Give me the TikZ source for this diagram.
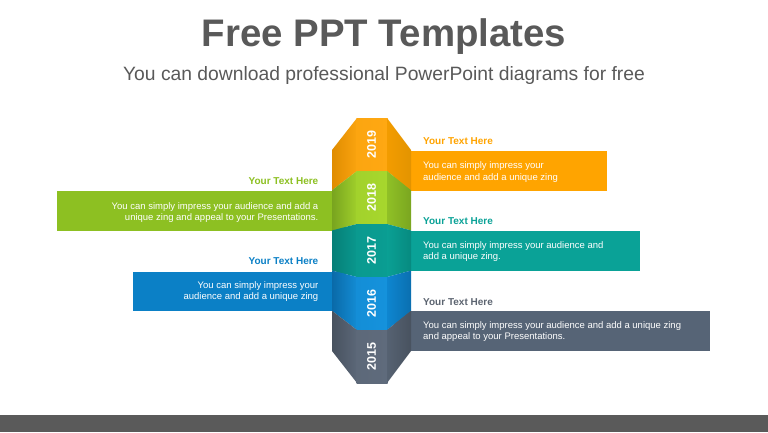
\documentclass[tikz,border=0pt]{standalone}
\usepackage{fontspec}
\setmainfont{Liberation Sans}
\definecolor{hdr}{HTML}{595959}
\definecolor{foot}{HTML}{5A5A5A}
\definecolor{obar}{HTML}{FFA400}
\definecolor{gbar}{HTML}{8DC022}
\definecolor{tbar}{HTML}{0AA297}
\definecolor{bbar}{HTML}{0B80C6}
\definecolor{sbar}{HTML}{566476}
\definecolor{stitle}{HTML}{5C6470}
\definecolor{oL}{HTML}{E08C00}\definecolor{oF}{HTML}{FFA812}\definecolor{oR}{HTML}{F39C00}\definecolor{oE}{HTML}{E39400}
\definecolor{gL}{HTML}{78A41F}\definecolor{gF}{HTML}{A7D72D}\definecolor{gR}{HTML}{90C026}\definecolor{gE}{HTML}{7AA620}
\definecolor{tL}{HTML}{067F77}\definecolor{tF}{HTML}{0A9D92}\definecolor{tR}{HTML}{0AA094}\definecolor{tE}{HTML}{078A80}
\definecolor{bL}{HTML}{0A6AA8}\definecolor{bF}{HTML}{1592DC}\definecolor{bR}{HTML}{0E86D0}\definecolor{bE}{HTML}{0A6FB0}
\definecolor{sL}{HTML}{48525F}\definecolor{sF}{HTML}{5F6B7C}\definecolor{sR}{HTML}{566272}\definecolor{sE}{HTML}{48525F}
\tikzset{
  yeartxt/.style={text=white,font=\bfseries\fontsize{12.5}{14}\selectfont,rotate=90,inner sep=0pt},
  headr/.style={anchor=west,font=\bfseries\fontsize{10}{11}\selectfont,inner sep=0pt},
  headl/.style={anchor=east,font=\bfseries\fontsize{10}{11}\selectfont,inner sep=0pt},
  bodyr/.style={anchor=west,align=left,text=white,font=\fontsize{9.5}{11.4}\selectfont,inner sep=0pt},
  bodyl/.style={anchor=east,align=right,text=white,font=\fontsize{9.5}{11.4}\selectfont,inner sep=0pt}
}
\begin{document}
\begin{tikzpicture}[x=1pt,y=-1pt]
\useasboundingbox (0,0) rectangle (768,432);
\fill[white] (0,0) rectangle (768,432);
\fill[foot] (0,415) rectangle (768,432);
\node[text=hdr,font=\bfseries\fontsize{38.4}{40}\selectfont,inner sep=0pt] (title) at (384,37) {Free PPT Templates};
\node[text=hdr,font=\fontsize{19.3}{22}\selectfont,inner sep=0pt] (subtitle) at (384,76) {You can download professional PowerPoint diagrams for free};
% bars
\fill[obar] (395,151) rectangle (607,190.5);
\fill[tbar] (395,231) rectangle (640,271);
\fill[sbar] (395,311) rectangle (710,351);
\fill[gbar] (57,191) rectangle (345,231);
\fill[bbar] (133,272) rectangle (345,311);
% column
\foreach \a/\b/\c/\d/\L/\F/\R/\E/\yr in {
  150/190.2/118/171/oL/oF/oR/oE/2019,
  190.2/230.4/171/224/gL/gF/gR/gE/2018,
  230.4/270.6/224/277/tL/tF/tR/tE/2017,
  270.6/310.8/277/330/bL/bF/bR/bE/2016,
  310.8/351/330/383/sL/sF/sR/sE/2015}{
  \shade[left color=\L,right color=\F!85!\L] (332,\a) -- (357,\c) -- (357,\d) -- (332,\b) -- cycle;
  \shade[left color=\F!90!\L,right color=\F] (356.5,\c) rectangle (387.5,\d);
  \shade[left color=\R,right color=\E] (387,\c) -- (411,\a) -- (411,\b) -- (387,\d) -- cycle;
  \node[yeartxt] (y\yr) at (371.5,{(\c+\d)/2}) {\yr};
}
% texts right
\node[headr,text=obar] (h19) at (423,141) {Your Text Here};
\node[bodyr] (t19) at (423,172) {You can simply impress your\\audience and add a unique zing};
\node[headr,text=tbar] (h17) at (423,221.5) {Your Text Here};
\node[bodyr] (t17) at (423,251.5) {You can simply impress your audience and\\add a unique zing.};
\node[headr,text=stitle] (h15) at (423,302) {Your Text Here};
\node[bodyr] (t15) at (423,331.5) {You can simply impress your audience and add a unique zing\\and appeal to your Presentations.};
% texts left
\node[headl,text=gbar] (h18) at (318.5,181) {Your Text Here};
\node[bodyl] (t18) at (318.5,212.5) {You can simply impress your audience and add a\\unique zing and appeal to your Presentations.};
\node[headl,text=bbar] (h16) at (318.5,261.5) {Your Text Here};
\node[bodyl] (t16) at (318.5,291.5) {You can simply impress your\\audience and add a unique zing};
\end{tikzpicture}
\end{document}
